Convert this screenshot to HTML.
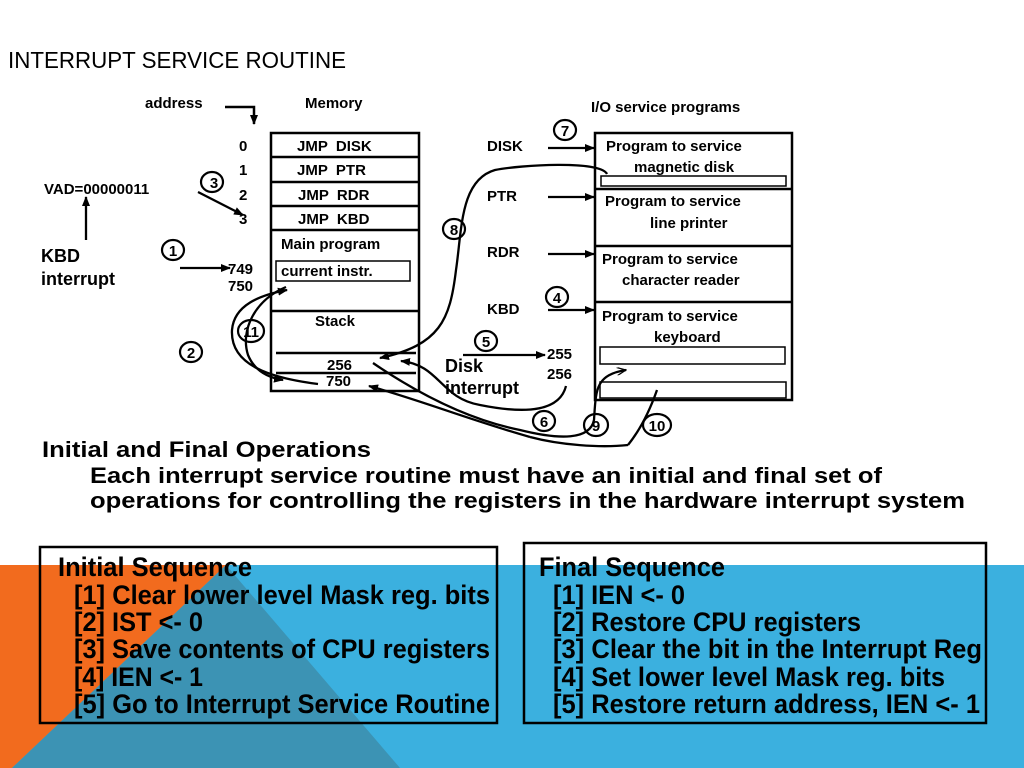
<!DOCTYPE html>
<html><head><meta charset="utf-8"><style>
html,body{margin:0;padding:0;background:#fff;}
svg{display:block;}
text{font-family:"Liberation Sans",Arial,sans-serif;fill:#000;}
.b{font-weight:bold;}
</style></head><body>
<svg width="1024" height="768" viewBox="0 0 1024 768" xmlns="http://www.w3.org/2000/svg">
<defs>
<marker id="ah" markerWidth="10" markerHeight="8" refX="9" refY="4" orient="auto" markerUnits="userSpaceOnUse">
<path d="M0,0 L10,4 L0,8 z" fill="#000"/></marker>
<marker id="ao" markerWidth="10" markerHeight="8" refX="9" refY="4" orient="auto" markerUnits="userSpaceOnUse">
<path d="M0,0 L9,4 L0,8" fill="none" stroke="#000" stroke-width="1.3"/></marker>
</defs>
<rect x="0" y="0" width="1024" height="768" fill="#fff"/>
<rect x="0" y="565" width="1024" height="203" fill="#3bb0df"/>
<polygon points="0,565 226,565 12,768 0,768" fill="#f26b1e"/>
<polygon points="226,565 400,768 12,768" fill="#3c93b4"/>

<text x="8" y="68" font-size="23" textLength="338" lengthAdjust="spacingAndGlyphs">INTERRUPT  SERVICE  ROUTINE</text>

<g font-size="15">
<text class="b" x="145" y="108">address</text>
<text class="b" x="305" y="108">Memory</text>
<text class="b" x="591" y="112">I/O service programs</text>
</g>
<path d="M225,107 H254 V124" fill="none" stroke="#000" stroke-width="2.5" marker-end="url(#ah)"/>

<g fill="none" stroke="#000" stroke-width="2.5">
<rect x="271" y="133" width="148" height="258"/>
<line x1="271" y1="157" x2="419" y2="157"/>
<line x1="271" y1="182" x2="419" y2="182"/>
<line x1="271" y1="206" x2="419" y2="206"/>
<line x1="271" y1="230" x2="419" y2="230"/>
<line x1="271" y1="311" x2="419" y2="311"/>
<line x1="276" y1="353" x2="416" y2="353"/>
<line x1="276" y1="373" x2="416" y2="373"/>
</g>
<rect x="276" y="261" width="134" height="20" fill="none" stroke="#000" stroke-width="1.5"/>
<g font-size="15" style="white-space:pre">
<text class="b" x="297" y="151" xml:space="preserve">JMP  DISK</text>
<text class="b" x="297" y="175" xml:space="preserve">JMP  PTR</text>
<text class="b" x="298" y="200" xml:space="preserve">JMP  RDR</text>
<text class="b" x="298" y="224" xml:space="preserve">JMP  KBD</text>
<text class="b" x="281" y="249">Main program</text>
<text class="b" x="281" y="276">current instr.</text>
<text class="b" x="315" y="326">Stack</text>
<text class="b" x="327" y="370">256</text>
<text class="b" x="326" y="386">750</text>
<text class="b" x="239" y="151">0</text>
<text class="b" x="239" y="175">1</text>
<text class="b" x="239" y="200">2</text>
<text class="b" x="239" y="224">3</text>
<text class="b" x="228" y="274">749</text>
<text class="b" x="228" y="291">750</text>
<text class="b" x="44" y="194">VAD=00000011</text>
<text class="b" x="487" y="151">DISK</text>
<text class="b" x="487" y="201">PTR</text>
<text class="b" x="487" y="257">RDR</text>
<text class="b" x="487" y="314">KBD</text>
<text class="b" x="547" y="359">255</text>
<text class="b" x="547" y="379">256</text>
</g>
<g font-size="18">
<text class="b" x="41" y="262">KBD</text>
<text class="b" x="41" y="285">interrupt</text>
<text class="b" x="445" y="372">Disk</text>
<text class="b" x="445" y="394">interrupt</text>
</g>

<g fill="none" stroke="#000" stroke-width="2.5">
<rect x="595" y="133" width="197" height="267"/>
<line x1="595" y1="189" x2="792" y2="189"/>
<line x1="595" y1="246" x2="792" y2="246"/>
<line x1="595" y1="302" x2="792" y2="302"/>
</g>
<g fill="none" stroke="#000" stroke-width="1.5">
<rect x="601" y="176" width="185" height="10"/>
<rect x="600" y="347" width="185" height="17"/>
<rect x="600" y="382" width="186" height="16"/>
</g>
<g font-size="15">
<text class="b" x="606" y="151">Program to service</text>
<text class="b" x="634" y="172">magnetic disk</text>
<text class="b" x="605" y="206">Program to service</text>
<text class="b" x="650" y="228">line printer</text>
<text class="b" x="602" y="264">Program to service</text>
<text class="b" x="622" y="285">character reader</text>
<text class="b" x="602" y="321">Program to service</text>
<text class="b" x="654" y="342">keyboard</text>
</g>

<g fill="none" stroke="#000" stroke-width="2.3">
<line x1="86" y1="240" x2="86" y2="197" marker-end="url(#ah)"/>
<line x1="180" y1="268" x2="230" y2="268" marker-end="url(#ah)"/>
<line x1="198" y1="192" x2="243" y2="215" marker-end="url(#ah)"/>
<line x1="548" y1="148" x2="594" y2="148" marker-end="url(#ah)"/>
<line x1="548" y1="197" x2="594" y2="197" marker-end="url(#ah)"/>
<line x1="548" y1="254" x2="594" y2="254" marker-end="url(#ah)"/>
<line x1="548" y1="310" x2="594" y2="310" marker-end="url(#ah)"/>
<line x1="463" y1="355" x2="545" y2="355" marker-end="url(#ah)"/>
<path d="M607,174 C600,160 520,165 495,170 C460,180 462,230 456,270 C450,320 440,345 380,358" marker-end="url(#ah)"/>
<path d="M566,386 C560,410 530,415 480,405 C440,398 440,365 401,361" marker-end="url(#ah)"/>
<path d="M373,363 C420,395 470,420 520,430 C560,440 590,440 594,420 C596,390 595,375 626,370" marker-end="url(#ao)"/>
<path d="M657,390 C650,410 640,430 628,445"/>
<path d="M530,437 C470,420 420,400 369,386" marker-end="url(#ah)"/>
<path d="M530,437 C560,445 600,448 628,445"/>
<path d="M286,287 C255,300 240,330 248,355 C255,372 270,378 283,380" marker-end="url(#ah)"/>
<path d="M318,384 C270,378 230,365 232,330 C234,305 260,295 287,290" marker-end="url(#ah)"/>
</g>

<g fill="none" stroke="#000" stroke-width="2.2">
<ellipse cx="173" cy="250" rx="11" ry="10"/>
<ellipse cx="191" cy="352" rx="11" ry="10"/>
<ellipse cx="212" cy="182" rx="11" ry="10"/>
<ellipse cx="557" cy="297" rx="11" ry="10"/>
<ellipse cx="486" cy="341" rx="11" ry="10"/>
<ellipse cx="544" cy="421" rx="11" ry="10"/>
<ellipse cx="565" cy="130" rx="11" ry="10"/>
<ellipse cx="454" cy="229" rx="11" ry="10"/>
<ellipse cx="596" cy="425" rx="12" ry="11"/>
<ellipse cx="657" cy="425" rx="14" ry="11"/>
<ellipse cx="251" cy="331" rx="13" ry="11"/>
</g>
<g font-size="15" text-anchor="middle">
<text class="b" x="173" y="256">1</text>
<text class="b" x="191" y="358">2</text>
<text class="b" x="214" y="188">3</text>
<text class="b" x="557" y="303">4</text>
<text class="b" x="486" y="347">5</text>
<text class="b" x="544" y="427">6</text>
<text class="b" x="565" y="136">7</text>
<text class="b" x="454" y="235">8</text>
<text class="b" x="596" y="431">9</text>
<text class="b" x="657" y="431">10</text>
<text class="b" x="251" y="337">11</text>
</g>

<text class="b" x="42" y="457" font-size="22" textLength="329" lengthAdjust="spacingAndGlyphs">Initial and Final Operations</text>
<text class="b" x="90" y="483" font-size="22" textLength="792" lengthAdjust="spacingAndGlyphs">Each interrupt service routine must have an initial and final set of</text>
<text class="b" x="90" y="508" font-size="22" textLength="875" lengthAdjust="spacingAndGlyphs">operations for controlling the registers in the hardware interrupt system</text>

<rect x="40" y="547" width="457" height="176" fill="none" stroke="#000" stroke-width="2.5"/>
<rect x="524" y="543" width="462" height="180" fill="none" stroke="#000" stroke-width="2.5"/>
<g font-size="27">
<text class="b" x="58" y="576" textLength="194" lengthAdjust="spacingAndGlyphs">Initial Sequence</text>
<text class="b" x="74" y="604" textLength="416" lengthAdjust="spacingAndGlyphs">[1] Clear lower level Mask reg. bits</text>
<text class="b" x="74" y="631" textLength="129" lengthAdjust="spacingAndGlyphs">[2] IST &lt;- 0</text>
<text class="b" x="74" y="658" textLength="416" lengthAdjust="spacingAndGlyphs">[3] Save contents of CPU registers</text>
<text class="b" x="74" y="686" textLength="129" lengthAdjust="spacingAndGlyphs">[4] IEN &lt;- 1</text>
<text class="b" x="74" y="713" textLength="416" lengthAdjust="spacingAndGlyphs">[5] Go to Interrupt Service Routine</text>
<text class="b" x="539" y="576" textLength="186" lengthAdjust="spacingAndGlyphs">Final Sequence</text>
<text class="b" x="553" y="604" textLength="132" lengthAdjust="spacingAndGlyphs">[1] IEN &lt;- 0</text>
<text class="b" x="553" y="631" textLength="308" lengthAdjust="spacingAndGlyphs">[2] Restore CPU registers</text>
<text class="b" x="553" y="658" textLength="429" lengthAdjust="spacingAndGlyphs">[3] Clear the bit in the Interrupt Reg</text>
<text class="b" x="553" y="686" textLength="392" lengthAdjust="spacingAndGlyphs">[4] Set lower level Mask reg. bits</text>
<text class="b" x="553" y="713" textLength="427" lengthAdjust="spacingAndGlyphs">[5] Restore return address, IEN &lt;- 1</text>
</g>
</svg>
</body></html>
